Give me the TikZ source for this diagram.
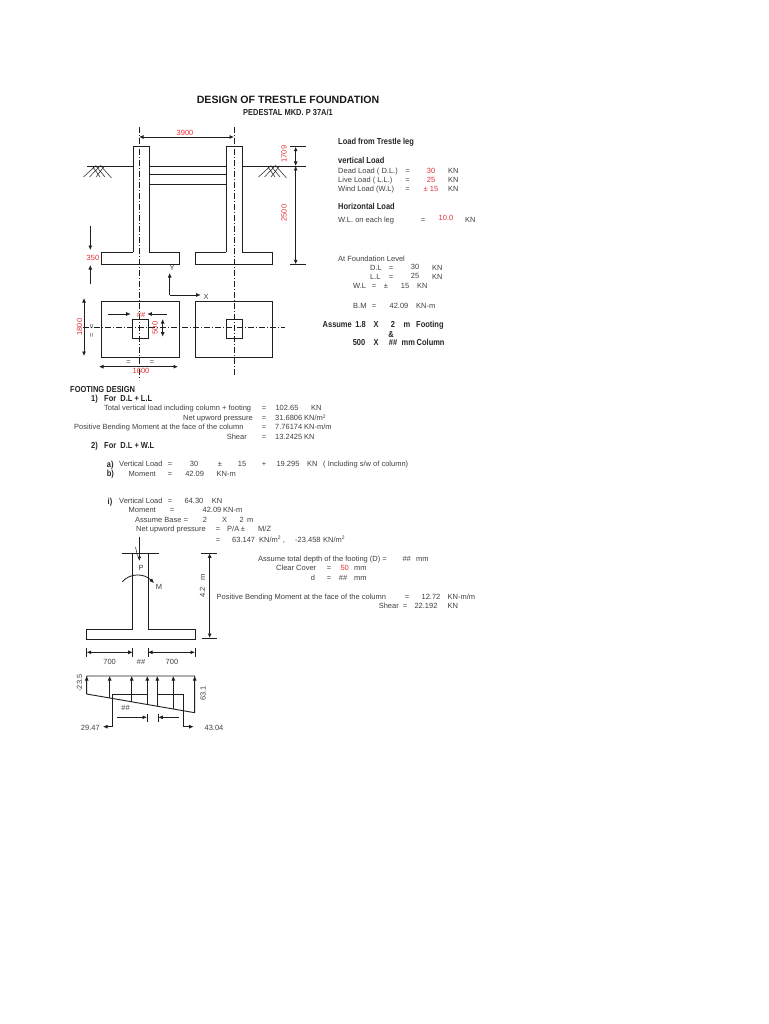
\documentclass[tikz,border=0pt]{standalone}
\usepackage{fontspec}
\setmainfont{Liberation Sans}
\newfontfamily\narrowbold[FakeStretch=0.86]{Liberation Sans Bold}
\usetikzlibrary{arrows.meta}
\definecolor{txt}{gray}{0.25}
\definecolor{redtxt}{RGB}{225,50,55}
\definecolor{ln}{gray}{0.12}
\newcount\tn
\tikzset{
  part/.style={draw=ln,line width=0.9pt},
  cline/.style={draw=ln,line width=0.8pt,dash pattern=on 6pt off 2pt on 1pt off 2pt},
  dimline/.style={draw=ln,line width=0.8pt,{Latex[length=4.5pt,width=4pt]}-{Latex[length=4.5pt,width=4pt]}},
  arrowline/.style={draw=ln,line width=0.8pt,-{Latex[length=4.5pt,width=4pt]}},
  thin part/.style={draw=ln,line width=0.5pt},
  base/.style={inner sep=0pt,text=txt,font=\fontsize{7.5}{8}\selectfont},
  boldn/.style={inner sep=0pt,text=black!85,font=\fontsize{8.7}{9}\narrowbold},
}
% labels set on a common baseline: left, centre, right
\newcommand\TL[3]{\global\advance\tn 1 \node[base,anchor=base west] (t\the\tn) at ([yshift=-2.7pt]#1,#2) {#3};}
\newcommand\TC[3]{\global\advance\tn 1 \node[base,anchor=base] (t\the\tn) at ([yshift=-2.7pt]#1,#2) {#3};}
\newcommand\TR[3]{\global\advance\tn 1 \node[base,anchor=base east] (t\the\tn) at ([yshift=-2.7pt]#1,#2) {#3};}
\newcommand\RC[3]{\global\advance\tn 1 \node[base,anchor=base,text=redtxt] (t\the\tn) at ([yshift=-2.7pt]#1,#2) {#3};}
\newcommand\RR[3]{\global\advance\tn 1 \node[base,text=redtxt,rotate=90] (t\the\tn) at (#1,#2) {#3};}
\newcommand\TV[3]{\global\advance\tn 1 \node[base,rotate=90] (t\the\tn) at (#1,#2) {#3};}
\newcommand\BL[3]{\global\advance\tn 1 \node[boldn,anchor=base west] (t\the\tn) at ([yshift=-3pt]#1,#2) {#3};}
\newcommand\BC[3]{\global\advance\tn 1 \node[boldn,anchor=base] (t\the\tn) at ([yshift=-3pt]#1,#2) {#3};}
\newcommand\hatching[1]{%
  \draw[thin part,shift={(#1,0)}] (83.5,177) -- (96,165.5) (89.5,177) -- (100.5,165.5) (96,177) -- (104.5,166)
    (111.5,178) -- (100.5,165.5) (105,177) -- (96,166) (100,177) -- (93,167);}
\begin{document}
\begin{tikzpicture}[x=1pt,y=-1pt]
\useasboundingbox (0,0) rectangle (768,1024);
\fill[white] (0,0) rectangle (768,1024);

% ---- elevation
\draw[part] (86.7,166) -- (133,166) (133,252.3) -- (133,146.7) -- (149,146.7) -- (149,252.3);
\draw[part] (149,166) -- (226,166) (149,174.7) -- (226,174.7) (149,184) -- (226,184);
\draw[part] (226,252.3) -- (226,146.7) -- (242,146.7) -- (242,252.3);
\draw[part] (242,166) -- (306,166);
\draw[part] (133,252.3) -- (101.7,252.3) -- (101.7,264.3) -- (179.3,264.3) -- (179.3,252.3) -- (149,252.3);
\draw[part] (226,252.3) -- (195.3,252.3) -- (195.3,264.3) -- (272.3,264.3) -- (272.3,252.3) -- (242,252.3);
\hatching{0}\hatching{175}
\draw[cline] (139,127) -- (139,380);
\draw[cline] (234,127) -- (234,375);
\coordinate (dl) at (139,137); \coordinate (dr) at (234,137);
\draw[dimline] (dl) -- (dr);
\RC{185}{133}{3900}
\draw[part] (290,146.7) -- (306,146.7) (290,264.3) -- (306,264.3);
\coordinate (rt) at (295.7,146.7); \coordinate (rm) at (295.7,166); \coordinate (rb) at (295.7,264.3);
\draw[dimline] (rt) -- (rm);
\draw[dimline] (rm) -- (rb);
\RR{284}{154}{1709}
\RR{284}{213}{2500}
\coordinate (ha) at (90.3,226); \coordinate (hb) at (90.3,250);
\coordinate (hc) at (90.3,284); \coordinate (hd) at (90.3,265);
\draw[arrowline] (ha) -- (hb);
\draw[arrowline] (hc) -- (hd);
\RC{93}{258}{350}

% ---- axes
\coordinate (ax) at (169.7,295);
\draw[arrowline] (ax) -- (169.7,273);
\draw[arrowline] (ax) -- (200.7,295);
\TC{172}{268}{Y}
\TC{206}{296.5}{X}

% ---- plan
\draw[part] (101.7,301.7) rectangle (179.3,357.7);
\draw[part] (195.3,301.7) rectangle (272.3,357.7);
\draw[part] (132.7,319.7) rectangle (148.7,338.7);
\draw[part] (226,319.7) rectangle (242,338.7);
\draw[cline] (83,327.3) -- (285,327.3);
\draw[dimline] (84,298) -- (84,356);
\RR{79.5}{327}{1800}
\TV{92}{326}{=}\TV{92}{335}{=}
\draw[dimline] (99,366.7) -- (178,366.7);
\RC{141}{371}{1600}
\TC{128.5}{362}{=}\TC{152}{362}{=}
\draw[arrowline] (108,314) -- (130.7,314);
\draw[arrowline] (166.7,314) -- (147.3,314);
\RC{141}{315}{\#\#}
\RR{155}{328}{500}
\draw[dimline] (162.7,319) -- (162.7,336.7);

% ---- titles
\node[inner sep=0pt,font=\fontsize{10.6}{12}\selectfont\bfseries,text=black!90] (title) at (288,100) {DESIGN OF TRESTLE FOUNDATION};
\BC{288}{113}{PEDESTAL MKD. P 37A/1}

% ---- load table
\BL{338}{142}{Load from Trestle leg}
\BL{338}{160.5}{vertical Load}
\TL{338}{170.5}{Dead Load ( D.L.)}\TC{407.5}{170.5}{=}\RC{431}{170.5}{30}\TL{448}{170.5}{KN}
\TL{338}{179.5}{Live Load ( L.L.)}\TC{407.5}{179.5}{=}\RC{431}{179.5}{25}\TL{448}{179.5}{KN}
\TL{338}{188.5}{Wind Load (W.L)}\TC{407.5}{188.5}{=}\RC{431}{188.5}{± 15}\TL{448}{188.5}{KN}
\BL{338}{207}{Horizontal Load}
\TL{338}{219.5}{W.L. on each leg}\TC{423}{219.5}{=}\RC{446}{217.5}{10.0}\TL{465}{219.5}{KN}
\TL{338}{259}{At Foundation Level}
\TL{370}{268}{D.L}\TC{391}{268}{=}\TC{415}{266.5}{30}\TL{432}{268}{KN}
\TL{370}{277}{L.L}\TC{391}{277}{=}\TC{415}{276}{25}\TL{432}{277}{KN}
\TL{353}{286}{W.L}\TC{374}{286}{=}\TC{386}{286}{±}\TC{405}{286}{15}\TL{417}{286}{KN}
\TL{353}{306}{B.M}\TC{374}{306}{=}\TC{399}{306}{42.09}\TL{416}{306}{KN-m}
\BL{322.5}{324}{Assume}\BC{360.5}{324}{1.8}\BC{376}{324}{X}\BC{393}{324}{2}\BC{407}{324}{m}\BL{416}{324}{Footing}
\BC{391}{334.5}{\&}
\BC{359}{342.5}{500}\BC{376}{342.5}{X}\BC{393}{342.5}{\#\#}\BL{401.5}{342.5}{mm}\BL{416.5}{342.5}{Column}

% ---- footing design text
\BL{70}{389}{FOOTING DESIGN}
\BL{91}{398}{1)}\BL{104}{398}{For\ \ D.L + L.L}
\TL{104}{408}{Total vertical load including column + footing}\TC{264}{408}{=}\TC{287}{408}{102.65}\TL{311}{408}{KN}
\TR{253}{418}{Net upword pressure}\TC{264}{418}{=}\TL{275}{418}{31.6806}\TL{304}{418}{KN/m\raisebox{2.5pt}{\fontsize{5}{5}\selectfont 2}}
\TL{74}{427}{Positive Bending Moment at the face of the column}\TC{264}{427}{=}\TL{275}{427}{7.76174}\TL{304}{427}{KN-m/m}
\TR{247}{437}{Shear}\TC{264}{437}{=}\TL{275}{437}{13.2425}\TL{304}{437}{KN}
\BL{91}{445}{2)}\BL{104}{445}{For\ \ D.L + W.L}
\BL{106.7}{464}{a)}\TL{119}{464}{Vertical Load}\TC{170}{464}{=}\TC{194}{464}{30}\TC{220}{464}{±}\TC{242}{464}{15}\TC{264}{464}{+}\TC{288}{464}{19.295}\TL{307}{464}{KN}\TL{323}{464}{( Including s/w of column)}
\BL{106.7}{473.5}{b)}\TL{128.5}{473.5}{Moment}\TC{170}{473.5}{=}\TC{194.7}{473.5}{42.09}\TL{216.5}{473.5}{KN-m}
\BL{107.5}{501}{i)}\TL{119}{501}{Vertical Load}\TC{170}{501}{=}\TC{194}{501}{64.30}\TL{211.7}{501}{KN}
\TL{128.5}{510}{Moment}\TC{172}{510}{=}\TC{212}{510}{42.09}\TL{223}{510}{KN-m}
\TL{135}{519.5}{Assume Base =}\TC{205}{519.5}{2}\TC{224.5}{519.5}{X}\TC{241.7}{519.5}{2}\TL{247}{519.5}{m}
\TL{136}{529}{Net upword pressure}\TC{218}{529}{=}\TL{227}{529}{P/A}\TC{243}{529}{±}\TL{258}{529}{M/Z}
\TC{218}{539.5}{=}\TL{232}{539.5}{63.147}\TL{259}{539.5}{KN/m\raisebox{2.5pt}{\fontsize{5}{5}\selectfont 2}\ ,}\TL{295}{539.5}{-23.458}\TL{323}{539.5}{KN/m\raisebox{2.5pt}{\fontsize{5}{5}\selectfont 2}}
\TL{258}{559}{Assume total depth of the footing (D) =}\TC{406.7}{559}{\#\#}\TL{416}{559}{mm}
\TL{276}{568}{Clear Cover}\TC{329}{568}{=}\RC{344.7}{568}{50}\TL{354}{568}{mm}
\TC{313}{578}{d}\TC{329}{578}{=}\TC{343}{578}{\#\#}\TL{354}{578}{mm}
\TL{216.5}{597}{Positive Bending Moment at the face of the column}\TC{407}{597}{=}\TC{431}{597}{12.72}\TL{447.5}{597}{KN-m/m}
\TR{399}{606}{Shear}\TC{405}{606}{=}\TC{426}{606}{22.192}\TL{447.5}{606}{KN}

% ---- section
\draw[part] (121.7,553.3) -- (159.3,553.3);
\draw[part] (132.7,553.3) -- (132.7,629.3) -- (86.7,629.3) -- (86.7,639.3) -- (195.7,639.3) -- (195.7,629.3) -- (148.7,629.3) -- (148.7,553.3);
\coordinate (pa) at (139.3,537); \coordinate (pb) at (139.3,561);
\draw[arrowline] (pa) -- (pb);
\draw[thin part] (135.5,547) -- (137.5,556);
\TC{141}{567.5}{P}
\coordinate (ma) at (122.3,581.7); \coordinate (mb) at (154,583);
\draw[arrowline] (ma) .. controls (130,573) and (144,573) .. (mb);
\TC{159}{587}{M}
\draw[part] (201,553.3) -- (216.7,553.3) (202,638) -- (217,638);
\draw[dimline] (209.7,553.3) -- (209.7,638);
\TV{202.5}{586}{4.2\ \ \ m}
\draw[part] (86.7,648) -- (86.7,657) (132.7,648) -- (132.7,657) (148,648) -- (148,657) (195,648) -- (195,657);
\draw[dimline] (86.7,652.3) -- (132.7,652.3);
\draw[dimline] (148,652.3) -- (195,652.3);
\TC{109.6}{662}{700}\TC{141}{662}{\#\#}\TC{172}{662}{700}

% ---- pressure diagram
\draw[part] (86.7,694) -- (86.7,676) -- (194.7,676) -- (194.7,712.7) -- cycle;
\foreach \px/\py in {86.7/694,109.7/698,131.7/701.8,147.3/704.5,157.3/706.2,173.3/709,194.7/712.7}
  \draw[arrowline] (\px,\py) -- (\px,676);
\draw[part] (147.3,694.3) -- (112.7,694.3);
\draw[arrowline] (112.7,694.3) -- (112.7,726.7) -- (103,726.7);
\draw[part] (157.3,694.3) -- (183.3,694.3);
\draw[arrowline] (183.3,694.3) -- (183.3,726.7) -- (193.7,726.7);
\TC{90.3}{727.5}{29.47}\TC{214}{727.5}{43.04}
\TC{125.5}{708}{\#\#}
\draw[arrowline] (116.7,717.3) -- (147,717.3);
\draw[arrowline] (178.7,717.3) -- (158.3,717.3);
\draw[part] (147.3,714) -- (147.3,722) (158,714) -- (158,722);
\TV{79.5}{683}{-23.5}
\TV{203}{693.3}{63.1}
\end{tikzpicture}
\end{document}
